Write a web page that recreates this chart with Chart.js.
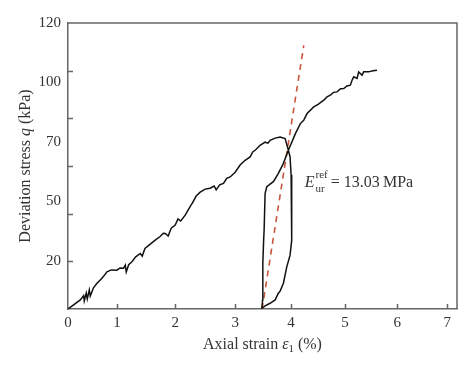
<!DOCTYPE html>
<html>
<head>
<meta charset="utf-8">
<script src="https://cdn.jsdelivr.net/npm/chart.js@4/dist/chart.umd.min.js"></script>
<style>
  body { margin: 0; background: #fff; }
  canvas { display: block; }
</style>
</head>
<body>
<canvas id="grafico" width="474" height="369"></canvas>
<script>
// ===============================
// DATA
// ===============================
// main stress-strain curve, including the unload / reload loop
const strain = [
  0, 0.227, 0.288, 0.30, 0.337, 0.356, 0.393, 0.411, 0.47, 0.535, 0.614, 0.66, 0.719, 0.80, 0.904,
  0.96, 1.025, 1.057, 1.075, 1.12, 1.180, 1.25, 1.333, 1.370, 1.42, 1.457, 1.53, 1.610, 1.70, 1.76,
  1.794, 1.849, 1.905, 1.979, 2.03, 2.08, 2.163, 2.259, 2.30, 2.366, 2.440, 2.532, 2.624, 2.698,
  2.735, 2.80, 2.869, 2.93, 2.993, 3.085, 3.177, 3.269, 3.361, 3.41, 3.454, 3.546, 3.638, 3.69,
  3.730, 3.823, 3.915, 4.007, 4.062,
  // unloading
  4.099, 4.118, 4.127, 4.131, 4.099, 4.038, 3.976, 3.915, 3.883, 3.823, 3.730, 3.638, 3.577,
  // reloading
  3.592, 3.596, 3.611, 3.620, 3.638, 3.670, 3.730, 3.791, 3.883, 3.976, 4.025, 4.068,
  // continued loading
  4.197, 4.289, 4.35, 4.413, 4.536, 4.616, 4.721, 4.78, 4.842, 4.90, 4.966, 5.03, 5.089, 5.15,
  5.211, 5.243, 5.274, 5.335, 5.366, 5.427, 5.458, 5.550, 5.630, 5.703
];
const stress = [
  0, 3.8, 5.6, 3.4, 6.7, 4.2, 8.0, 5.4, 8.9, 10.8, 12.6, 13.8, 15.6, 16.4, 16.3,
  17.2, 17.1, 18.4, 15.5, 18.6, 19.8, 21.9, 23.3, 22.2, 25.4, 26.1, 27.4, 28.9, 30.4, 31.8,
  31.7, 30.6, 33.9, 35.2, 37.8, 36.9, 39.4, 43.2, 44.6, 47.4, 49.0, 50.3, 50.7, 51.6,
  50.0, 52.1, 52.7, 54.8, 55.4, 57.4, 60.4, 62.4, 63.8, 65.9, 66.6, 68.7, 70.0, 69.6,
  70.8, 71.7, 72.2, 71.5, 67.1,
  63.8, 56.2, 45.7, 28.9, 22.6, 17.7, 10.8, 7.5, 6.6, 3.8, 2.4, 1.3, 0.3,
  3.8, 19.2, 28.9, 33.1, 48.5, 51.3, 52.4, 53.4, 56.9, 61.1, 64.1, 66.6,
  73.6, 77.8, 79.2, 82.0, 84.8, 85.9, 87.6, 89.0, 89.7, 90.9, 91.1, 92.4, 92.5, 93.6,
  93.9, 96.0, 97.4, 96.7, 99.5, 98.1, 99.5, 99.5, 100.0, 100.2
];

// E_ur^ref reference line (end points)
const refStrain = [3.583, 4.352];
const refStress = [0, 110.6];

// axis labels, placed where they sit on the original axes
const xTickAt = [0, 0.904, 1.979, 3.085, 4.118, 5.113, 6.078, 7.0];
const xTickText = ["0", "1", "2", "3", "4", "5", "6", "7"];
const yTickAt = [20, 45.3, 70.2, 95.3, 120];
const yTickText = ["20", "50", "70", "100", "120"];
const yMarkAt = [20, 40, 60, 80, 100];

const annotStrain = 4.37;
const annotStress = 51.1;

// ===============================
// HELPERS
// ===============================
const FONT = "'Liberation Serif', 'DejaVu Serif', serif";
const AXIS_COLOR = "#666";

function fnt(size, italic) {
  return (italic ? "italic " : "") + size + "px " + FONT;
}

function runsWidth(ctx, runs) {
  let w = 0;
  runs.forEach(r => { ctx.font = fnt(r.s, r.it); w += ctx.measureText(r.t).width; });
  return w;
}

function drawRuns(ctx, runs, x, y) {
  runs.forEach(r => {
    ctx.font = fnt(r.s, r.it);
    ctx.fillText(r.t, x, y + (r.dy || 0));
    x += ctx.measureText(r.t).width;
  });
}

const extras = {
  id: "extras",
  afterDraw(chart) {
    const ctx = chart.ctx;
    const a = chart.chartArea;
    const xs = chart.scales.x;
    const ys = chart.scales.y;
    ctx.save();

    // frame top + right
    ctx.strokeStyle = AXIS_COLOR;
    ctx.lineWidth = 1.5;
    ctx.beginPath();
    ctx.moveTo(a.left, a.top);
    ctx.lineTo(a.right, a.top);
    ctx.lineTo(a.right, a.bottom);
    ctx.stroke();

    // inward tick marks
    ctx.beginPath();
    yMarkAt.forEach(v => {
      const p = Math.round(ys.getPixelForValue(v)) + 0.5;
      ctx.moveTo(a.left, p);
      ctx.lineTo(a.left + 5, p);
    });
    xTickAt.slice(1).forEach(v => {
      const p = Math.round(xs.getPixelForValue(v)) + 0.5;
      ctx.moveTo(p, a.bottom);
      ctx.lineTo(p, a.bottom - 5);
    });
    ctx.stroke();

    ctx.fillStyle = "#333";
    ctx.textBaseline = "alphabetic";

    // x title
    const xr = [
      { t: "Axial strain ", s: 16 },
      { t: "ε", s: 16, it: true },
      { t: "1", s: 11, dy: 3 },
      { t: " (%)", s: 16 }
    ];
    const cx = (a.left + a.right) / 2;
    drawRuns(ctx, xr, cx - runsWidth(ctx, xr) / 2, 349);

    // y title
    const yr = [
      { t: "Deviation stress ", s: 16 },
      { t: "q", s: 16, it: true },
      { t: " (kPa)", s: 16 }
    ];
    ctx.save();
    ctx.translate(30, (a.top + a.bottom) / 2);
    ctx.rotate(-Math.PI / 2);
    drawRuns(ctx, yr, -runsWidth(ctx, yr) / 2, 0);
    ctx.restore();

    // annotation
    const ax = xs.getPixelForValue(annotStrain);
    const ay = ys.getPixelForValue(annotStress);
    ctx.font = fnt(16, true);
    ctx.fillText("E", ax, ay);
    const ew = ctx.measureText("E").width;
    ctx.font = fnt(11);
    ctx.fillText("ref", ax + ew + 1, ay - 9);
    ctx.fillText("ur", ax + ew + 1, ay + 5);
    const sw = ctx.measureText("ref").width;
    ctx.font = fnt(16);
    ctx.fillText("= 13.03\u2009MPa", ax + ew + sw + 4, ay);

    ctx.restore();
  }
};

// ===============================
// CHART
// ===============================
const ctx = document.getElementById("grafico").getContext("2d");

new Chart(ctx, {
  type: "scatter",
  data: {
    datasets: [
      {
        data: strain.map((x, i) => ({ x, y: stress[i] })),
        showLine: true,
        borderColor: "#111",
        borderWidth: 1.5,
        pointRadius: 0,
        tension: 0
      },
      {
        data: refStrain.map((x, i) => ({ x, y: refStress[i] })),
        showLine: true,
        borderColor: "#c8553d",
        borderWidth: 1.6,
        borderDash: [6, 5],
        pointRadius: 0
      }
    ]
  },
  options: {
    responsive: false,
    animation: false,
    layout: { padding: { left: 0, right: 17, top: 23, bottom: 0 } },
    plugins: { legend: { display: false }, tooltip: { enabled: false } },
    scales: {
      x: {
        type: "linear",
        min: 0,
        max: 7.18,
        grid: { display: false, drawTicks: false },
        border: { color: AXIS_COLOR, width: 1.5 },
        afterBuildTicks: s => { s.ticks = xTickAt.map(v => ({ value: v })); },
        afterFit: s => { s.height = 60; },
        ticks: {
          autoSkip: false,
          maxRotation: 0,
          padding: 5,
          color: "#333",
          font: { family: FONT, size: 15 },
          callback: (v, i) => xTickText[i]
        }
      },
      y: {
        type: "linear",
        min: 0,
        max: 120,
        grid: { display: false, drawTicks: false },
        border: { color: AXIS_COLOR, width: 1.5 },
        afterBuildTicks: s => { s.ticks = yTickAt.map(v => ({ value: v })); },
        afterFit: s => { s.width = 68; },
        ticks: {
          autoSkip: false,
          padding: 7,
          color: "#333",
          font: { family: FONT, size: 15 },
          callback: (v, i) => yTickText[i]
        }
      }
    }
  },
  plugins: [extras]
});
</script>
</body>
</html>
